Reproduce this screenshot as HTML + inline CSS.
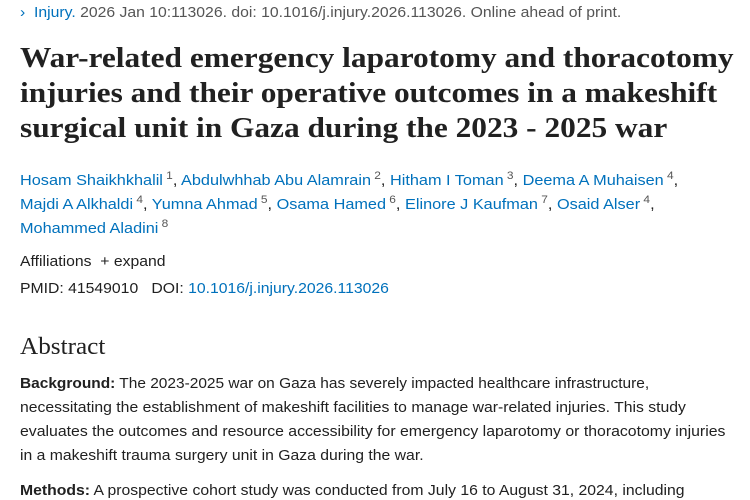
<!DOCTYPE html>
<html><head><meta charset="utf-8"><style>
body{margin:0;width:750px;height:500px;overflow:hidden;background:#fff;font-family:"Liberation Sans",sans-serif;color:#212121;}
.l{position:absolute;left:20px;white-space:nowrap;font-size:15px;transform-origin:0 0;transform:scaleX(1.05);}
a{color:#0071bc;text-decoration:none}
.t{position:absolute;left:20px;white-space:nowrap;font-family:"Liberation Serif",serif;font-weight:bold;font-size:28px;color:#212121;transform-origin:0 0;transform:scaleX(1.12);}
sup{font-size:11px;color:#555;vertical-align:6px;margin-left:3px;}
</style></head><body>
<div class="l" style="top:4px;color:#555"><a>›&nbsp; Injury.</a> 2026 Jan 10:113026. doi: 10.1016/j.injury.2026.113026. Online ahead of print.</div>
<div class="t" style="top:43px">War-related emergency laparotomy and thoracotomy</div>
<div class="t" style="top:78px">injuries and their operative outcomes in a makeshift</div>
<div class="t" style="top:113px">surgical unit in Gaza during the 2023 - 2025 war</div>
<div class="l" style="top:170px;transform:scaleX(1.085)"><a>Hosam Shaikhkhalil</a><sup>1</sup>, <a>Abdulwhhab Abu Alamrain</a><sup>2</sup>, <a>Hitham I Toman</a><sup>3</sup>, <a>Deema A Muhaisen</a><sup>4</sup>,</div>
<div class="l" style="top:194px;transform:scaleX(1.085)"><a>Majdi A Alkhaldi</a><sup>4</sup>, <a>Yumna Ahmad</a><sup>5</sup>, <a>Osama Hamed</a><sup>6</sup>, <a>Elinore J Kaufman</a><sup>7</sup>, <a>Osaid Alser</a><sup>4</sup>,</div>
<div class="l" style="top:218px;transform:scaleX(1.085)"><a>Mohammed Aladini</a><sup>8</sup></div>
<div class="l" style="top:253px">Affiliations &nbsp;+ expand</div>
<div class="l" style="top:280px">PMID: 41549010 &nbsp;&nbsp;DOI: <a>10.1016/j.injury.2026.113026</a></div>
<div class="l" style="top:334px;font-family:'Liberation Serif',serif;font-size:24px">Abstract</div>
<div class="l" style="top:375px;transform:scaleX(1.03)"><b>Background:</b> The 2023-2025 war on Gaza has severely impacted healthcare infrastructure,</div>
<div class="l" style="top:399px">necessitating the establishment of makeshift facilities to manage war-related injuries. This study</div>
<div class="l" style="top:423px;transform:scaleX(1.055)">evaluates the outcomes and resource accessibility for emergency laparotomy or thoracotomy injuries</div>
<div class="l" style="top:447px">in a makeshift trauma surgery unit in Gaza during the war.</div>
<div class="l" style="top:482px"><b>Methods:</b> A prospective cohort study was conducted from July 16 to August 31, 2024, including</div>
</body></html>
